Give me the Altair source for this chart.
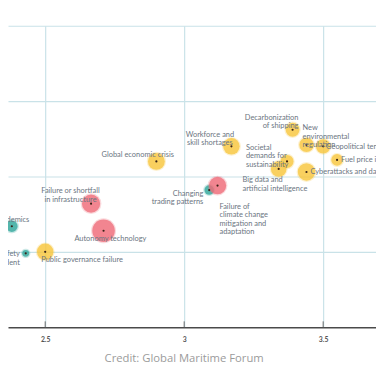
import altair as alt
import pandas as pd

# ---------------- data ----------------
risks = [
    "Pandemics", "Major safety accident", "Public governance failure",
    "Failure or shortfall in infrastructure", "Autonomy technology",
    "Global economic crisis", "Changing trading patterns",
    "Failure of climate change mitigation and adaptation",
    "Workforce and skill shortages", "Decarbonization of shipping",
    "New environmental regulation", "Geopolitical tensions",
    "Fuel price increase", "Cyberattacks and data fraud",
    "Societal demands for sustainability", "Big data and artificial intelligence",
]
labels = [
    "Pandemics", "Major safety\naccident", "Public governance failure",
    "Failure or shortfall\nin infrastructure", "Autonomy technology",
    "Global economic crisis", "Changing\ntrading patterns",
    "Failure of\nclimate change\nmitigation and\nadaptation",
    "Workforce and\nskill shortages", "Decarbonization\nof shipping",
    "New\nenvironmental\nregulation", "Geopolitical tensions",
    "Fuel price increase", "Cyberattacks and data fraud",
    "Societal\ndemands for\nsustainability", "Big data and\nartificial intelligence",
]
likelihood = [2.38, 2.43, 2.50, 2.665, 2.71, 2.90, 3.09, 3.12, 3.17, 3.39,
              3.44, 3.50, 3.55, 3.44, 3.37, 3.34]
impact = [2.67, 2.49, 2.50, 2.82, 2.64, 3.10, 2.91, 2.94, 3.20, 3.31,
          3.21, 3.20, 3.11, 3.03, 3.10, 3.05]
weight = [6.7, 4.0, 9.5, 10.5, 13.0, 9.7, 5.5, 10.0, 9.5, 8.0,
          8.3, 8.3, 6.7, 10.0, 7.5, 9.0]
group = ["C", "C", "A", "B", "B", "A", "C", "B", "A", "A",
         "A", "A", "A", "A", "A", "A"]
x_ticks = [2.5, 3.0, 3.5]
y_grid = [2.5, 3.0, 3.5, 4.0]

df = pd.DataFrame({"risk": risks, "label": labels, "likelihood": likelihood,
                   "impact": impact, "weight": weight, "group": group})
ticks_df = pd.DataFrame({"t": x_ticks})

# ---------------- styling ----------------
label_style = {  # align, dx, dy (pixels from bubble centre)
    "Pandemics": ("center", 0, -6),
    "Major safety accident": ("right", -6, 1),
    "Public governance failure": ("left", -4, 8),
    "Failure or shortfall in infrastructure": ("center", -21, -12.5),
    "Autonomy technology": ("center", 7, 8),
    "Global economic crisis": ("center", -19, -7),
    "Changing trading patterns": ("right", -6, 4),
    "Failure of climate change mitigation and adaptation": ("left", 2, 22),
    "Workforce and skill shortages": ("center", -22, -11.5),
    "Decarbonization of shipping": ("right", 6, -12),
    "New environmental regulation": ("left", -4, -17),
    "Geopolitical tensions": ("left", 3, 1),
    "Fuel price increase": ("left", 4, 0),
    "Cyberattacks and data fraud": ("left", 4, 0),
    "Societal demands for sustainability": ("left", -42, -14),
    "Big data and artificial intelligence": ("left", -37, 11.5),
}

xscale = alt.Scale(domain=[2.3662, 3.6901], nice=False, zero=False)
yscale = alt.Scale(domain=[2.0, 4.0], nice=False, zero=False)
grid_color = "#c9e2e8"
palette = ["#f8c63c", "#f06b78", "#2fa79b"]

base = alt.Chart(df)

bubbles = base.mark_circle(opacity=0.82, strokeWidth=2.5, strokeOpacity=0.3).encode(
    x=alt.X("likelihood:Q", scale=xscale,
            axis=alt.Axis(values=x_ticks, title=None, labelExpr="'' + datum.value",
                          labelFontSize=7, labelFontWeight="bold", labelColor="#555555",
                          labelFont="Lato", domainColor="#4a4a4a", domainWidth=1.5,
                          tickSize=0, labelPadding=9, grid=True, gridColor=grid_color,
                          gridWidth=1.2)),
    y=alt.Y("impact:Q", scale=yscale,
            axis=alt.Axis(values=y_grid, title=None, labels=False, ticks=False,
                          domain=False, grid=True, gridColor=grid_color, gridWidth=1.2)),
    size=alt.Size("weight:Q", scale=alt.Scale(type="pow", exponent=2, domain=[0, 13],
                                              range=[0, 531]), legend=None),
    color=alt.Color("group:N", scale=alt.Scale(domain=["A", "B", "C"], range=palette),
                    legend=None),
    stroke=alt.Stroke("group:N", scale=alt.Scale(domain=["A", "B", "C"], range=palette),
                      legend=None),
)

dots = base.mark_circle(size=5, opacity=1, color="#3a2418").encode(
    x=alt.X("likelihood:Q", scale=xscale),
    y=alt.Y("impact:Q", scale=yscale),
)

tick_marks = alt.Chart(ticks_df).mark_rule(color="#666666", strokeWidth=1).encode(
    x=alt.X("t:Q", scale=xscale),
    y=alt.value(302),
    y2=alt.value(308),
)

text_layers = []
for name, (align, dx, dy) in label_style.items():
    text_layers.append(
        base.transform_filter(alt.datum.risk == name).mark_text(
            align=align, baseline="middle", dx=dx, dy=dy, fontSize=7.6,
            font="Lato", color="#6b7581", lineBreak="\n", lineHeight=8.6,
        ).encode(
            x=alt.X("likelihood:Q", scale=xscale),
            y=alt.Y("impact:Q", scale=yscale),
            text="label:N",
        )
    )

chart = alt.layer(bubbles, dots, tick_marks, *text_layers).properties(
    width=376, height=308,
    autosize=alt.AutoSizeParams(type="none"),
    padding={"left": 0, "top": 14, "right": 0, "bottom": 61},
    title=alt.TitleParams("Credit: Global Maritime Forum", orient="bottom",
                          anchor="middle", dx=-8, offset=11, fontSize=11.5,
                          font="Open Sans", fontWeight="normal", color="#9b9b9b"),
).configure_view(stroke=None)

chart.save("out.html", embed_options={"renderer": "svg", "actions": False})
